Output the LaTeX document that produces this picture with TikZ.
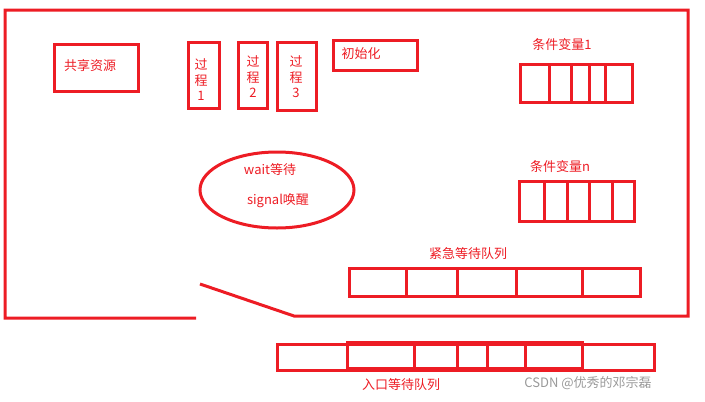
\documentclass[tikz,border=0pt]{standalone}
\usepackage{fontspec}
\setmainfont{Noto Sans CJK SC}
\definecolor{myred}{RGB}{237,28,36}
\begin{document}
\begin{tikzpicture}[x=1pt,y=-1pt,
  rl/.style={draw=myred,line width=3pt},
  lbl/.style={text=myred,font=\fontsize{13}{15.5}\selectfont,inner sep=0pt}]
\useasboundingbox (0,0) rectangle (705,402);
\draw[rl] (196,318) -- (5,318) -- (5,10) -- (688,10) -- (688,316) -- (294,316) -- (200,284);
\draw[rl] (54,44) rectangle (138,91);
\node[lbl] (gx) at (90,66) {共享资源};
\draw[rl] (188,42) rectangle (219,108);
\node[lbl,align=center] (p1) at (201,80) {过\\程\\1};
\draw[rl] (238,42) rectangle (267,108);
\node[lbl,align=center] (p2) at (253,77) {过\\程\\2};
\draw[rl] (277,42) rectangle (316,110);
\node[lbl,align=center] (p3) at (296,77) {过\\程\\3};
\draw[rl] (333,40) rectangle (417,70);
\node[lbl] (init) at (361,54) {初始化};
\node[lbl] (c1) at (562,45) {条件变量1};
\draw[rl] (520,64) rectangle (632,102);
\foreach \x in {549,571,589,605} \draw[rl] (\x,64) -- (\x,102);
\draw[rl] (277,190) ellipse (77 and 38);
\node[lbl] (w) at (270,170) {wait等待};
\node[lbl] (s) at (278,201) {signal唤醒};
\node[lbl] (cn) at (560,167) {条件变量n};
\draw[rl] (519,181) rectangle (634,221);
\foreach \x in {544,567,589,612} \draw[rl] (\x,181) -- (\x,221);
\node[lbl] (u) at (468,254) {紧急等待队列};
\draw[rl] (349,268) rectangle (640,296);
\foreach \x in {406,457,516,582} \draw[rl] (\x,268) -- (\x,296);
\draw[rl] (277,344) rectangle (654,370);
\draw[rl] (347,342) rectangle (582,368);
\foreach \x in {414,457,487,525} \draw[rl] (\x,344) -- (\x,370);
\node[lbl] (e) at (401,385) {入口等待队列};
\node[text=gray!80,font=\fontsize{13}{15}\selectfont,inner sep=0pt] (wm) at (588,383) {CSDN @优秀的邓宗磊};
\end{tikzpicture}
\end{document}
